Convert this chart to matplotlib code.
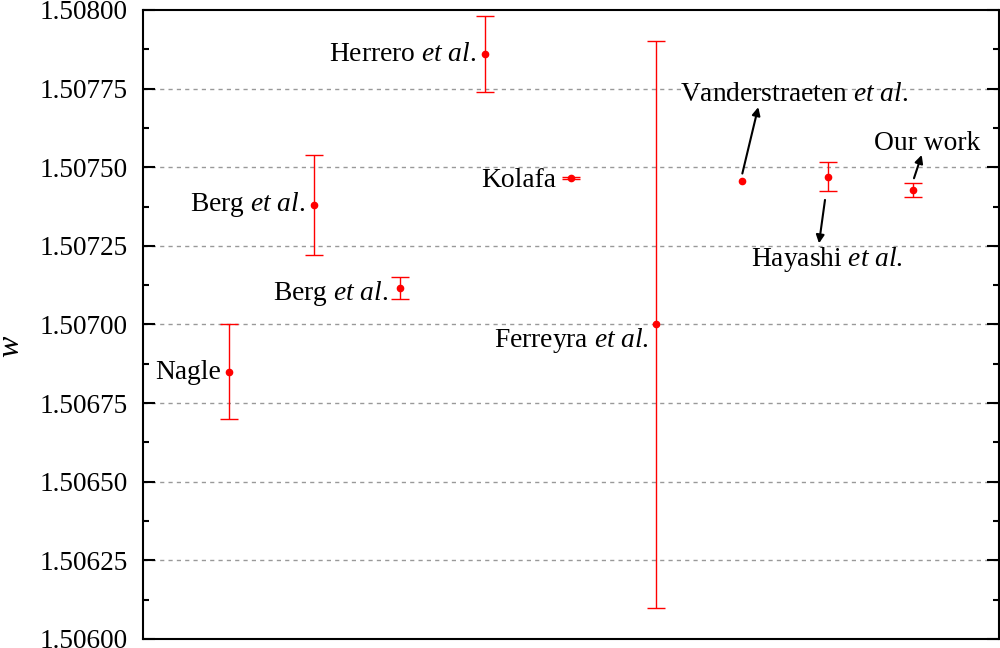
import numpy as np
import matplotlib
matplotlib.use("Agg")
import matplotlib.pyplot as plt
from matplotlib.ticker import MultipleLocator, FormatStrFormatter

# data
sources = ["Nagle", "Berg1", "Berg2", "Herrero", "Kolafa", "Ferreyra",
           "Vanderstraeten", "Hayashi", "Our work"]
w_values = [1.50685, 1.50738, 1.507117, 1.50786, 1.507465, 1.50700,
            1.507456, 1.50747, 1.507428]
w_errors = [0.00015, 0.00016, 0.000035, 0.00012, 0.000003, 0.0009,
            0.0, 0.000047, 0.000023]

labels = [r"Nagle", r"Berg $\it{et\ al.}$", r"Berg $\it{et\ al.}$",
          r"Herrero $\it{et\ al.}$", r"Kolafa", r"Ferreyra $\it{et\ al.}$",
          r"Vanderstraeten $\it{et\ al.}$", r"Hayashi $\it{et\ al.}$", r"Our work"]

plt.rcParams["font.family"] = ["Liberation Serif", "DejaVu Serif"]
plt.rcParams["mathtext.fontset"] = "custom"
plt.rcParams["mathtext.rm"] = "Liberation Serif"
plt.rcParams["mathtext.it"] = "Liberation Serif:italic"

fig = plt.figure(figsize=(10, 6.48), dpi=100)
ax = fig.add_axes([0.143, 0.0139, 0.8557, 0.9707])

x = np.arange(1, len(w_values) + 1)
w = np.array(w_values)
err = np.array(w_errors)
has_err = err > 0

ax.errorbar(x[has_err], w[has_err], yerr=err[has_err], fmt="o", color="red",
            ecolor="red", elinewidth=1.0, capsize=6.5, capthick=1.0,
            markersize=4.5, zorder=3)
ax.plot(x[~has_err], w[~has_err], "o", color="red", markersize=4.5, zorder=3)

ax.set_xlim(0, 10)
ax.set_ylim(1.506, 1.508)
ax.set_xticks([])
ax.yaxis.set_major_locator(MultipleLocator(0.00025))
ax.yaxis.set_minor_locator(MultipleLocator(0.000125))
ax.yaxis.set_major_formatter(FormatStrFormatter("%.5f"))
ax.tick_params(axis="y", which="both", direction="in", left=True, right=True,
               labelsize=19.6, pad=11, width=1.5)
ax.tick_params(axis="y", which="major", length=8.5)
ax.tick_params(axis="y", which="minor", length=4.5)
for s in ax.spines.values():
    s.set_linewidth(1.5)

for gy in np.arange(1.50625, 1.50776, 0.00025):
    ax.axhline(gy, color="#999999", linestyle=(0, (3, 3)), linewidth=1.0, zorder=1)

ax.set_ylabel("w", fontsize=23, fontstyle="italic")
ax.yaxis.set_label_coords(-0.138, 0.466)

fs = 19.8
# plain labels beside their points
ax.text(0.91, 1.506846, labels[0], ha="right", va="center", fontsize=fs)
ax.text(1.89, 1.50738, labels[1], ha="right", va="center", fontsize=fs)
ax.text(2.87, 1.50710, labels[2], ha="right", va="center", fontsize=fs)
ax.text(3.90, 1.50786, labels[3], ha="right", va="center", fontsize=fs)
ax.text(4.83, 1.507457, labels[4], ha="right", va="center", fontsize=fs)
ax.text(5.91, 1.50695, labels[5], ha="right", va="center", fontsize=fs)

# labels with arrows
arrow = dict(arrowstyle="-|>", color="black", lw=1.5, mutation_scale=12,
             shrinkA=0, shrinkB=0)
ax.annotate("", xy=(7.19, 1.507691), xytext=(7.004, 1.50748), arrowprops=arrow)
ax.text(7.61, 1.50773, labels[6], ha="center", va="center", fontsize=fs)
ax.annotate("", xy=(7.90, 1.507258), xytext=(7.97, 1.507396), arrowprops=arrow)
ax.text(7.99, 1.507207, labels[7], ha="center", va="center", fontsize=fs)
ax.annotate("", xy=(9.10, 1.507539), xytext=(9.01, 1.507465), arrowprops=arrow)
ax.text(9.16, 1.507576, labels[8], ha="center", va="center", fontsize=fs)

fig.savefig("out.png", dpi=100)
